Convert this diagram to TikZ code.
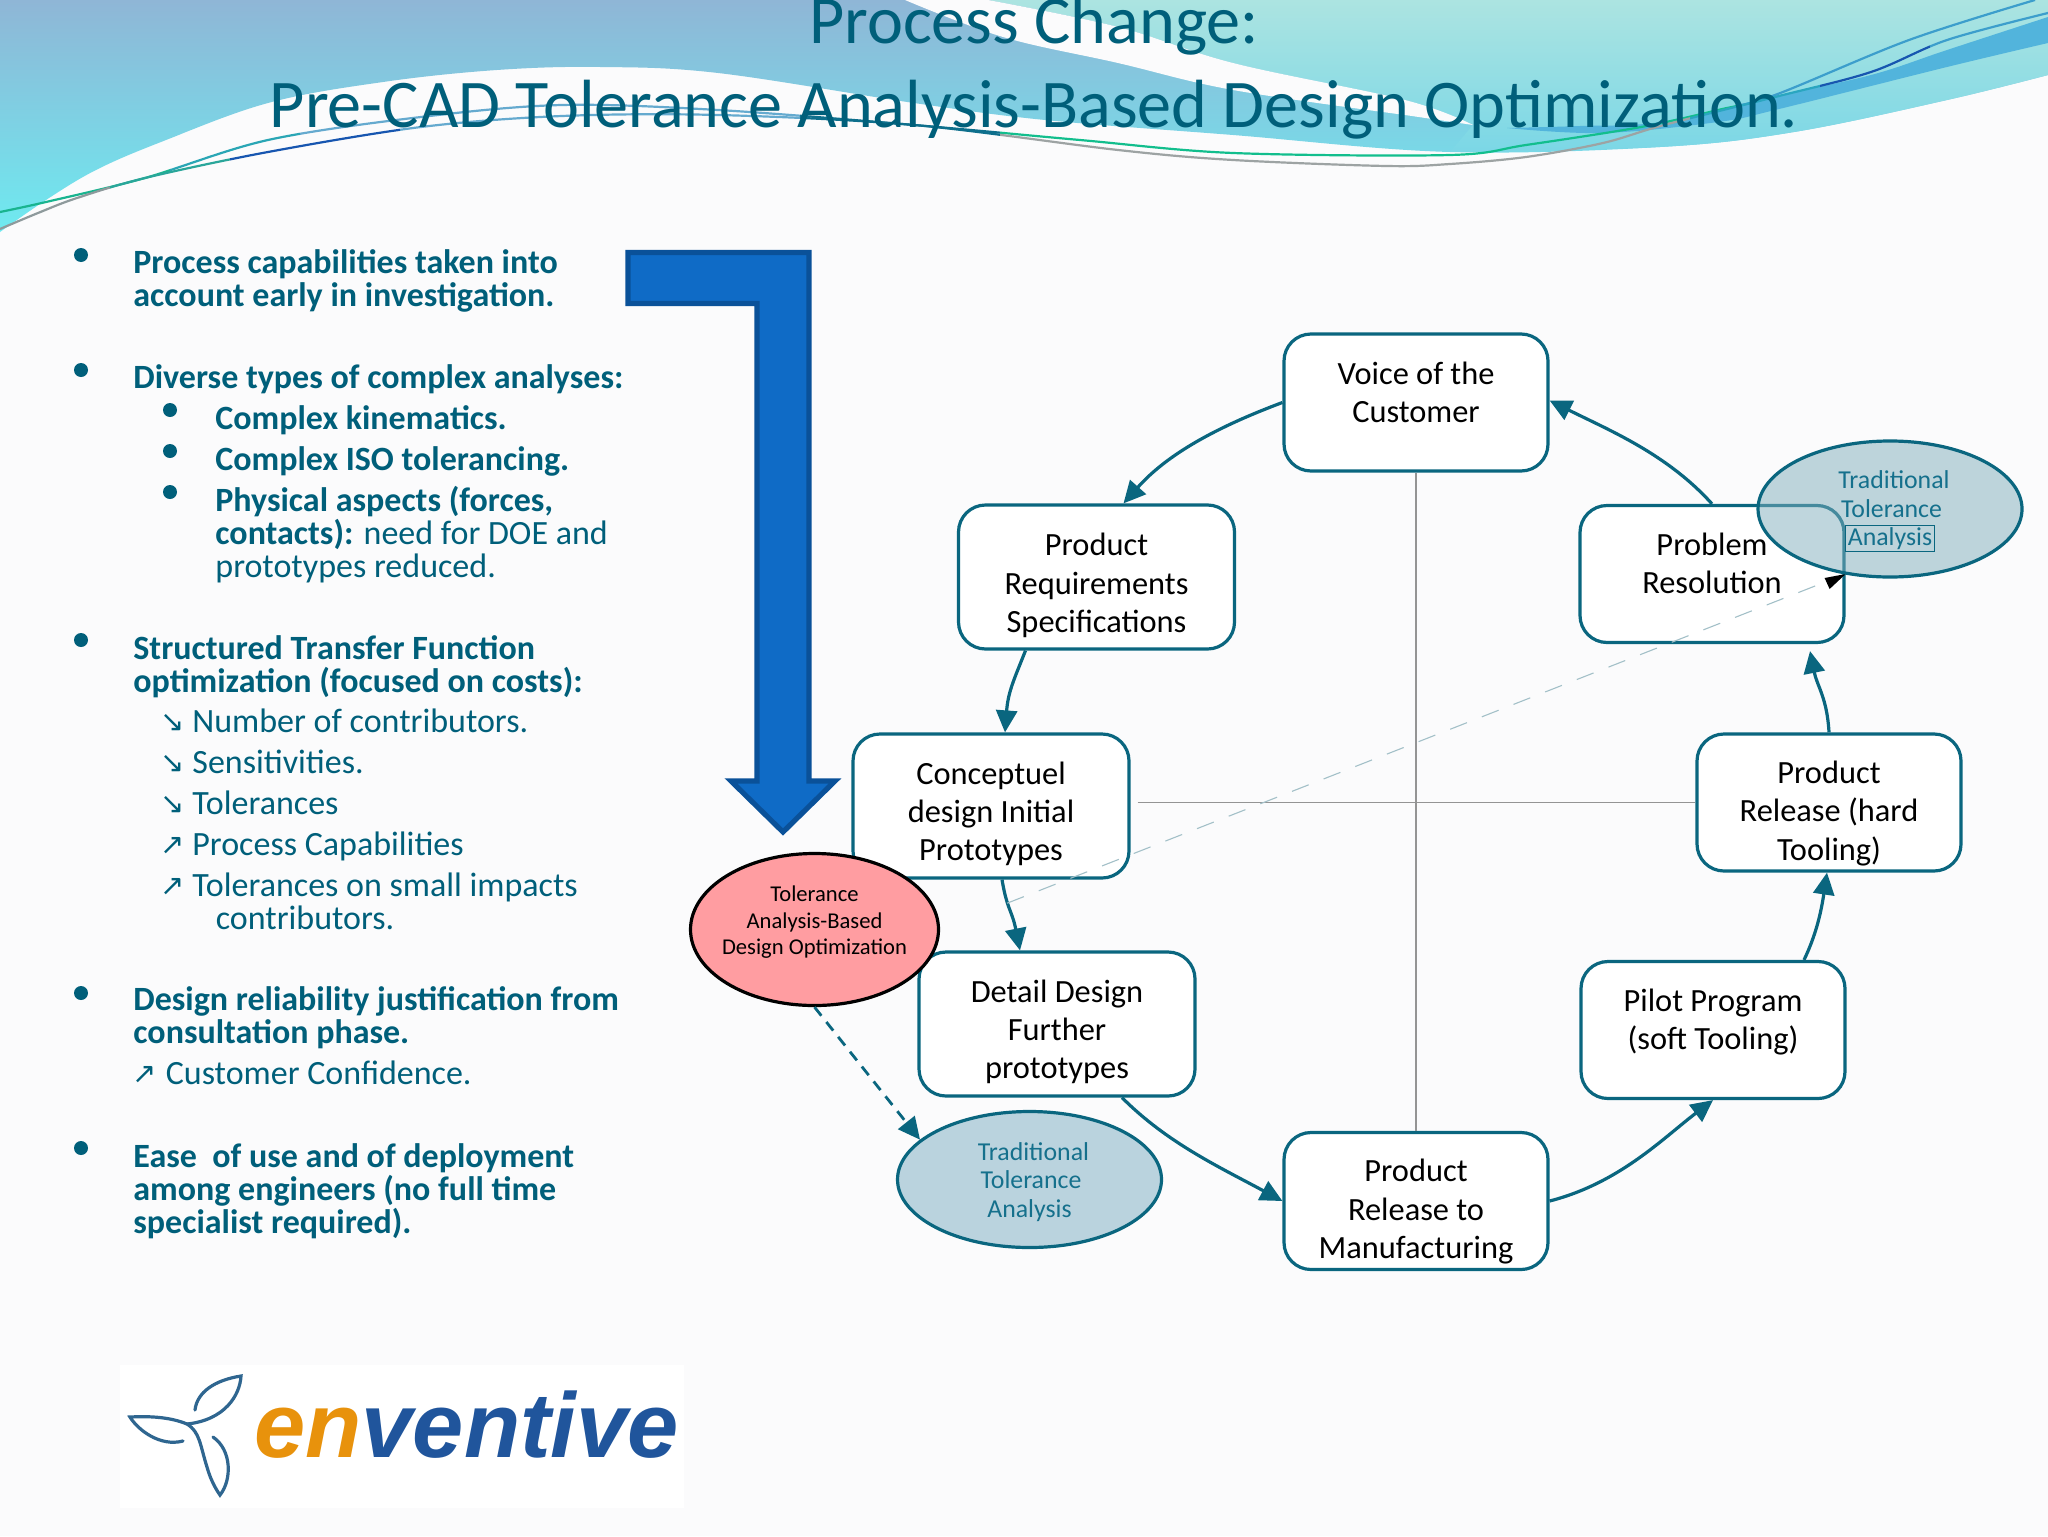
\documentclass[tikz,border=0pt]{standalone}
\usepackage{fontspec}
\setmainfont{Carlito}
\newfontfamily\symf{DejaVu Sans}
\newfontfamily\logof{Liberation Sans}
\usetikzlibrary{arrows.meta,shapes.geometric,calc}
\definecolor{bgc}{HTML}{FBFBFC}
\definecolor{teal}{HTML}{005F7A}
\definecolor{edgec}{HTML}{0A667F}
\definecolor{tradc}{HTML}{BAD3DE}
\definecolor{tradt}{HTML}{15708C}
\definecolor{pinkc}{HTML}{FF9DA1}
\definecolor{bluef}{HTML}{0F6BC6}
\definecolor{blueb}{HTML}{0A5199}
\definecolor{stripc}{HTML}{52B4DC}
\definecolor{dashc}{HTML}{A3C0C8}
\definecolor{logoo}{HTML}{E8920C}
\definecolor{logob}{HTML}{20559C}
\definecolor{logol}{HTML}{2F6690}
\newcommand{\up}[1]{\rule[-#1]{0pt}{#1}}
\newcommand{\dn}[1]{\rule{0pt}{#1}}
\newcommand{\ar}[2]{\makebox[#1][l]{\hspace*{-.8pt}\raisebox{.6pt}{\symf\fontsize{14.5}{10}\selectfont #2}}}
\newcommand{\wavepath}{(0,232) (46,200) (96,170) (161,142) (268,103) (383,82) (497,70) (600,67) (718,73) (914,103) (1045,120) (1233,135) (1450,152) (1660,147) (1794,132) (1947,100) (2048,75)}
\tikzset{
  cycbox/.style={draw=edgec,line width=1.6pt,fill=white,rounded corners=13.5pt,minimum width=#1,align=center,inner sep=0pt,
    font=\fontsize{16.2}{19.2}\selectfont,text=black},
  cycbox/.default=132pt,
  conn/.style={draw=edgec,line width=1.6pt,-{Triangle[length=11pt,width=10.5pt]}},
  axisline/.style={draw=black!42,line width=.6pt},
  tradell/.style={ellipse,draw=edgec,line width=1.6pt,minimum width=132pt,minimum height=68pt,inner sep=0pt,align=center,
    font=\fontsize{12.9}{14.3}\selectfont,text=tradt},
  para/.style={anchor=north west,inner sep=0pt,align=left,text=teal,yshift=-1.1pt,font=\fontsize{17}{16.35}\selectfont},
  bul/.style={circle,fill=teal,inner sep=0pt,minimum size=7pt},
  logoline/.style={draw=logol,line width=1.6pt,line cap=round},
  wline/.style={line width=1.1pt}
}
\begin{document}
\begin{tikzpicture}[x=0.5pt,y=-0.5pt]
\useasboundingbox (0,0) rectangle (2048,1536);
\fill[bgc] (0,0) rectangle (2048,1536);
% header waves
\shade[top color={rgb,255:red,143;green,182;blue,214},middle color={rgb,255:red,128;green,203;blue,224},bottom color={rgb,255:red,110;green,234;blue,240}]
  plot[smooth,tension=.6] coordinates {\wavepath} -- (2048,0) -- (0,0) -- cycle;
\shade[top color={rgb,255:red,172;green,228;blue,225},middle color={rgb,255:red,148;green,207;blue,228},bottom color={rgb,255:red,123;green,215;blue,230}]
  plot[smooth,tension=.6] coordinates {(988,0) (1118,27) (1233,63) (1405,100) (1473,125)} -- (1450,152)
  -- plot[smooth,tension=.6] coordinates {(1450,152) (1660,147) (1794,132) (1947,100) (2048,75)} -- (2048,0) -- cycle;
\fill[bgc] plot[smooth,tension=.6] coordinates {(988,0) (1118,27) (1233,63) (1405,100) (1473,125)}
  -- plot[smooth,tension=.6] coordinates {(1405,115) (1233,90) (1118,63) (1003,37) (905,0)} -- cycle;
\fill[stripc] plot[smooth,tension=.6] coordinates {(1507,128) (1580,126) (1660,122) (1771,97) (1871,75) (1947,50) (2048,17)}
  -- plot[smooth,tension=.6] coordinates {(2048,43) (1947,67) (1775,110) (1718,122) (1603,133) (1507,128)} -- cycle;
% two thin ribbons
\newcommand{\lineA}{plot[smooth,tension=.55] coordinates {(0,212) (46,202) (145,178) (268,140) (421,117) (562,105) (718,110) (914,125) (1080,140) (1233,153) (1450,155) (1526,145) (1641,127) (1718,110) (1775,95) (1909,40) (2035,0)}}
\newcommand{\lineB}{plot[smooth,tension=.55] coordinates {(0,229) (38,213) (77,198) (145,178) (268,152) (421,127) (562,116) (718,115) (914,125) (1118,150) (1233,160) (1386,166) (1450,164) (1526,157) (1603,143) (1664,125) (1775,97) (1871,72) (1947,40) (2048,13)}}
\foreach \xa/\xb/\col in {0/170/19B48F, 170/300/2AA6B5, 300/800/65AACF, 800/1000/0E6F8C, 1000/1740/12BE8D, 1740/2048/3C9ECC}{
  \begin{scope}\clip (\xa,0) rectangle (\xb,300);\definecolor{tc}{HTML}{\col}\draw[wline,tc] \lineA;\end{scope}}
\foreach \xa/\xb/\col in {0/110/8E9A9C, 110/230/2AA69A, 230/400/1756B0, 400/800/65AACF, 800/1000/0E6F8C, 1000/1690/9DA3A3, 1690/1820/2AA6C0, 1820/1930/1756B0, 1930/2048/3C9ECC}{
  \begin{scope}\clip (\xa,0) rectangle (\xb,300);\definecolor{tc}{HTML}{\col}\draw[wline,tc] \lineB;\end{scope}}
% title
\node[anchor=base,inner sep=0pt,text=teal,font=\fontsize{34.1}{40}\selectfont] (title1) at (1034,44) {Process Change:};
\node[anchor=base,inner sep=0pt,text=teal,font=\fontsize{34.1}{40}\selectfont] (title2) at (1034,127) {Pre-CAD Tolerance Analysis-Based Design Optimization.};
% left column
\node[bul] (b1) at (81,255) {};
\node[bul] (b2) at (81,370) {};
\node[bul] (b3) at (81,640) {};
\node[bul] (b4) at (81,993) {};
\node[bul] (b5) at (81,1148) {};
\node[bul] (b21) at (170,410) {};
\node[bul] (b22) at (170,451) {};
\node[bul] (b23) at (170,492) {};
\node[para] (p1) at (133,243) {\rule{0pt}{14pt}\bfseries Process capabilities taken into\\\bfseries account early in investigation.};
\node[para] (p2) at (133,358) {\rule{0pt}{14pt}\bfseries Diverse types of complex analyses:};
\node[para] (p21) at (215,399) {\rule{0pt}{14pt}\bfseries Complex kinematics.};
\node[para] (p22) at (215,440) {\rule{0pt}{14pt}\bfseries Complex ISO tolerancing.};
\node[para] (p23) at (215,481) {\rule{0pt}{14pt}\textbf{Physical aspects (forces,}\\\textbf{contacts):} need for DOE and\\prototypes reduced.};
\node[para] (p3) at (133,629) {\rule{0pt}{14pt}\bfseries Structured Transfer Function\\\bfseries optimization (focused on costs):};
\node[para] (p31) at (162,702) {\rule{0pt}{14pt}\ar{15pt}{↘}Number of contributors.};
\node[para] (p32) at (162,743) {\rule{0pt}{14pt}\ar{15pt}{↘}Sensitivities.};
\node[para] (p33) at (162,784) {\rule{0pt}{14pt}\ar{15pt}{↘}Tolerances};
\node[para] (p34) at (162,825) {\rule{0pt}{14pt}\ar{15pt}{↗}Process Capabilities};
\node[para] (p35) at (162,866) {\rule{0pt}{14pt}\ar{15pt}{↗}Tolerances on small impacts\\\hspace*{26.7pt}contributors.};
\node[para] (p4) at (133,980) {\rule{0pt}{14pt}\bfseries Design reliability justification from\\\bfseries consultation phase.};
\node[para] (p41) at (134,1054) {\rule{0pt}{14pt}\ar{15.7pt}{↗}Customer Confidence.};
\node[para] (p5) at (133,1137) {\rule{0pt}{14pt}\bfseries Ease\ \ of use and of deployment\\\bfseries among engineers (no full time\\\bfseries specialist required).};
% cycle boxes
\node[cycbox,minimum height=68.5pt] (voice) at (1416,402.5) {Voice of the\\Customer\up{10.5pt}};
\node[cycbox=138pt,minimum height=72pt] (prs) at (1096.5,577) {\dn{20pt}Product\\Requirements\\Specifications};
\node[cycbox=138pt,minimum height=72pt] (conc) at (991,806) {\dn{19pt}Conceptuel\\design Initial\\Prototypes};
\node[cycbox=138pt,minimum height=72pt] (detail) at (1057,1024) {\dn{19pt}Detail Design\\Further\\prototypes};
\node[cycbox,minimum height=68.5pt] (prm) at (1416,1201) {\dn{22pt}Product\\Release to\\Manufacturing};
\node[cycbox,minimum height=68.5pt] (pilot) at (1713,1030) {Pilot Program\\(soft Tooling)\up{10.5pt}};
\node[cycbox,minimum height=68.5pt] (prh) at (1829,802.5) {\dn{22pt}Product\\Release (hard\\Tooling)};
\node[cycbox,minimum height=68.5pt] (prob) at (1712,574) {Problem\\Resolution\up{10.5pt}};
% axes
\draw[axisline] (voice.south) -- (prm.north);
\draw[axisline,shorten <=3.5pt] (conc.east |- prh.west) -- (prh.west);
% connectors
\draw[conn] (voice.west) .. controls +(-75,28) and +(40,-45) .. ($(prs.north)+(27,0)$);
\draw[conn] ($(prs.south)+(-71,0)$) .. controls +(-12,30) and +(3,-40) .. ($(conc.north)+(14,0)$);
\draw[conn] ($(conc.south)+(11,0)$) .. controls +(5,30) and +(-8,-40) .. ($(detail.north)+(-37,0)$);
\draw[conn] ($(detail.south)+(65,0)$) .. controls +(45,45) and +(-65,-35) .. (prm.west);
\draw[conn] (prm.east) .. controls +(70,-18) and +(-50,38) .. ($(pilot.south)+(0,0)$);
\draw[conn] ($(pilot.north)+(91,0)$) .. controls +(12,-25) and +(-6,40) .. ($(prh.south)+(-2,0)$);
\draw[conn] ($(prh.north)+(0,0)$) .. controls +(-2,-35) and +(7,35) .. ($(prob.south)+(98,7)$);
\draw[conn] ($(prob.north)+(0,0)$) .. controls +(-45,-50) and +(60,30) .. ($(voice.east)+(0,-2)$);
% big arrow
\draw[fill=bluef,draw=blueb,line width=2.6pt,miter limit=10] (628,252.5) -- (809,252.5) -- (809,781) -- (835,781) -- (783,832) -- (731,781) -- (757,781) -- (757,303.5) -- (628,303.5) -- cycle;
% pink ellipse & traditional ellipses
\node[ellipse,draw=black,fill=pinkc,line width=1.6pt,minimum width=124pt,minimum height=76pt,inner sep=0pt,text=black,font=\fontsize{11.3}{13.3}\selectfont] (tabdo) at (814.5,929.5) {\raisebox{.6pt}[0pt][0pt]{\makebox[40pt]{\begin{tabular}{@{}c@{}}Tolerance\\Analysis-Based\\Design Optimization\end{tabular}}}};
\node[tradell,fill=tradc] (tradb) at (1029.5,1179.5) {\dn{11.5pt}\hspace*{4pt}Traditional\\\hspace*{1.5pt}Tolerance\\Analysis};
\draw[draw=dashc,line width=.55pt,dash pattern=on 9pt off 8pt,shorten <=36pt,shorten >=7pt] (tabdo.east) -- (prob.east);
\fill[black] ($(prob.east)+(-21,4)$) -- (prob.east) -- ($(prob.east)+(-16,15)$) -- cycle;
\draw[draw=edgec,line width=1.4pt,dash pattern=on 5.5pt off 4pt,-{Triangle[length=11pt,width=10.5pt]}] (tabdo.south) -- (tradb.160);
\node[tradell,fill=edgec!52!white,fill opacity=.5,text opacity=1] (tradt) at (1890,509) {\dn{11.5pt}\hspace*{4pt}Traditional\\\hspace*{1.5pt}Tolerance\\[0pt]\fboxsep=0.8pt\fboxrule=.5pt\textcolor{edgec}{\fbox{\textcolor{tradt}{Analysis}}}};
% logo
\fill[white] (120,1365) rectangle (684,1508);
\node[anchor=base west,inner sep=0pt,font=\logof\fontsize{46}{46}\selectfont\bfseries\itshape] (logo) at (254,1457) {\textcolor{logoo}{en}\textcolor{logob}{ventive}};
\draw[logoline] (195,1410) .. controls (197,1392) and (215,1380) .. (241,1376) .. controls (240,1395) and (225,1420) .. (187,1424);
\draw[logoline] (183,1441) .. controls (160,1447) and (138,1430) .. (130,1417) .. controls (150,1416) and (170,1417) .. (187,1424) .. controls (200,1432) and (200,1445) .. (207,1467) .. controls (210,1478) and (215,1488) .. (220,1495) .. controls (232,1480) and (232,1450) .. (213,1437);
\end{tikzpicture}
\end{document}
